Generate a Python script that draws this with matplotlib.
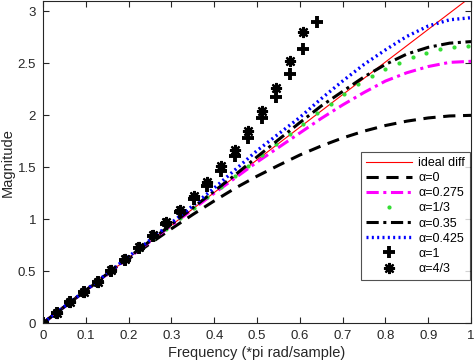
import numpy as np
import matplotlib.pyplot as plt

plt.rcParams['font.family'] = ['Liberation Sans', 'DejaVu Sans']

# dense frequency grid for the smooth curves (*pi rad/sample)
w = [0, 0.05, 0.1, 0.15, 0.2, 0.25, 0.3, 0.35, 0.4, 0.45, 0.5,
     0.55, 0.6, 0.65, 0.7, 0.75, 0.8, 0.85, 0.9, 0.95, 1.0]
ideal = [0, 3.1416]
w_ideal = [0, 1.0]
a0 = [0, 0.157, 0.313, 0.467, 0.618, 0.765, 0.908, 1.045, 1.176, 1.301, 1.414,
      1.518, 1.618, 1.705, 1.782, 1.848, 1.902, 1.944, 1.975, 1.994, 2.0]
a0275 = [0, 0.157, 0.314, 0.471, 0.628, 0.784, 0.94, 1.095, 1.25, 1.40, 1.55,
         1.69, 1.83, 1.97, 2.10, 2.22, 2.33, 2.41, 2.47, 2.51, 2.52]
a035 = [0, 0.158, 0.316, 0.474, 0.632, 0.79, 0.95, 1.11, 1.27, 1.43, 1.60,
        1.765, 1.93, 2.09, 2.23, 2.37, 2.49, 2.59, 2.655, 2.695, 2.71]
a0425 = [0, 0.159, 0.318, 0.478, 0.64, 0.80, 0.965, 1.13, 1.30, 1.48, 1.66,
         1.82, 1.98, 2.16, 2.33, 2.49, 2.63, 2.76, 2.86, 2.92, 2.94]

# coarse grid (step 0.032) used for the marker series
wk = [0.032 * k for k in range(32)]
a13 = [0, 0.101, 0.202, 0.303, 0.403, 0.504, 0.605, 0.706, 0.807, 0.908,
       1.009, 1.11, 1.21, 1.31, 1.415, 1.515, 1.62, 1.72, 1.82, 1.92,
       2.02, 2.11, 2.21, 2.30, 2.38, 2.445, 2.50, 2.56, 2.60, 2.635, 2.66, 2.67]
a1 = [0, 0.10, 0.20, 0.30, 0.40, 0.505, 0.61, 0.725, 0.84, 0.955,
      1.07, 1.19, 1.32, 1.46, 1.61, 1.78, 1.97, 2.18, 2.40, 2.64, 2.90]
a43 = [0, 0.10, 0.20, 0.30, 0.40, 0.51, 0.62, 0.735, 0.85, 0.97,
       1.09, 1.22, 1.36, 1.51, 1.67, 1.85, 2.04, 2.26, 2.52, 2.80]

fig = plt.figure(figsize=(4.74, 3.63), dpi=100)
ax = fig.add_axes([0.0907, 0.110, 0.9030, 0.887])

ax.plot(w_ideal, ideal, color='red', lw=0.8, label='ideal diff')
ax.plot(w, a0, color='black', ls=(0, (4, 2.5)), lw=2.2, label='α=0')
ax.plot(w, a0275, color='magenta', ls=(0, (4, 1.5, 1, 1.5)), lw=2.2,
        label='α=0.275')
ax.plot(wk, a13, ls='none', marker='.', ms=4, color='#33dd33',
        label='α=1/3')
ax.plot(w, a035, color='black', ls=(0, (4, 1.5, 1, 1.5)), lw=2.2,
        label='α=0.35')
ax.plot(w, a0425, color='blue', ls=(0, (0.6, 1.0)), lw=2.4,
        label='α=0.425')
ax.plot(wk[:len(a1)], a1, ls='none', marker='+', ms=8, mew=2.8,
        color='black', label='α=1')
ax.plot(wk[:len(a43)], a43, ls='none', marker=(8, 2, 0), ms=8, mew=1.6,
        color='black', label='α=4/3')

ax.set_xlim(0, 1)
ax.set_ylim(0, 3.1)
ax.set_xticks(np.arange(0, 1.01, 0.1))
ax.set_xticklabels(['0', '0.1', '0.2', '0.3', '0.4', '0.5', '0.6', '0.7',
                    '0.8', '0.9', '1'])
ax.set_yticks([0, 0.5, 1, 1.5, 2, 2.5, 3])
ax.set_yticklabels(['0', '0.5', '1', '1.5', '2', '2.5', '3'])
ax.tick_params(direction='in', top=True, right=True, length=4, width=0.8,
               colors='#262626', labelsize=9.5, pad=5)
for s in ax.spines.values():
    s.set_color('#262626')
    s.set_linewidth(0.8)

ax.set_xlabel('Frequency (*pi rad/sample)', fontsize=10.5, color='#262626',
              labelpad=3)
ax.set_ylabel('Magnitude', fontsize=10.5, color='#262626', labelpad=2)

leg = ax.legend(loc='lower right', bbox_to_anchor=(0.998, 0.134),
                fontsize=9, handlelength=3.7, handletextpad=0.5,
                labelspacing=0.25, borderpad=0.4, borderaxespad=0,
                frameon=True, fancybox=False)
leg.get_frame().set_edgecolor('#262626')
leg.get_frame().set_linewidth(0.8)

fig.savefig('out.png', dpi=100)
